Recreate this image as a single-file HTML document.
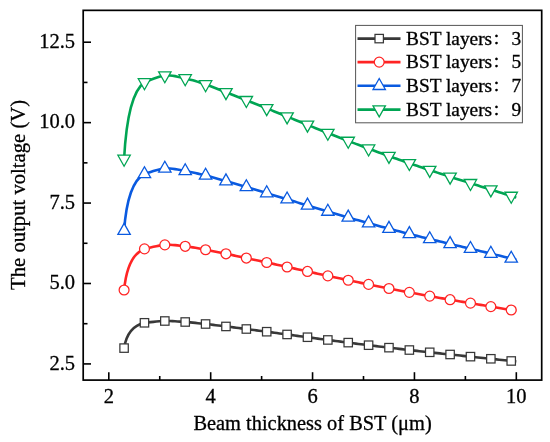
<!DOCTYPE html>
<html><head><meta charset="utf-8"><style>
html,body{margin:0;padding:0;background:#fff;}
svg{display:block;}
text{font-family:"Liberation Serif","Noto Serif CJK SC",serif;font-size:20px;fill:#000;stroke:#000;stroke-width:0.3px;}
text.lg{font-size:18px;}
text.tk{font-size:20.5px;}
text.ti{font-size:20.5px;}
</style></head><body>
<svg width="550" height="442" viewBox="0 0 550 442">
<rect width="550" height="442" fill="#fff"/>
<path d="M124.08,348.10 C125.55,339.10 129.34,326.25 144.46,322.80 L146.03,322.64 148.12,322.41 150.61,322.13 153.37,321.84 156.30,321.55 159.26,321.30 162.15,321.10 164.83,321.00 167.38,320.98 169.93,321.03 172.47,321.13 175.02,321.26 177.57,321.43 180.12,321.61 182.66,321.81 185.21,322.00 187.76,322.20 190.30,322.42 192.85,322.66 195.40,322.91 197.94,323.17 200.49,323.45 203.04,323.72 205.59,324.00 208.13,324.28 210.68,324.58 213.23,324.88 215.77,325.19 218.32,325.50 220.87,325.82 223.42,326.13 225.96,326.45 228.51,326.76 231.06,327.08 233.60,327.40 236.15,327.72 238.70,328.04 241.24,328.36 243.79,328.69 246.34,329.01 248.89,329.34 251.43,329.68 253.98,330.01 256.53,330.35 259.07,330.69 261.62,331.03 264.17,331.37 266.71,331.71 269.26,332.05 271.81,332.39 274.36,332.74 276.90,333.08 279.45,333.43 282.00,333.77 284.54,334.12 287.09,334.46 289.64,334.81 292.18,335.15 294.73,335.50 297.28,335.85 299.83,336.19 302.37,336.54 304.92,336.88 307.47,337.23 310.01,337.57 312.56,337.91 315.11,338.26 317.65,338.60 320.20,338.94 322.75,339.28 325.30,339.62 327.84,339.96 330.39,340.29 332.94,340.63 335.48,340.96 338.03,341.30 340.58,341.63 343.12,341.96 345.67,342.29 348.22,342.62 350.77,342.95 353.31,343.27 355.86,343.60 358.41,343.92 360.95,344.24 363.50,344.56 366.05,344.88 368.59,345.19 371.14,345.51 373.69,345.82 376.24,346.13 378.78,346.44 381.33,346.75 383.88,347.05 386.42,347.36 388.97,347.66 391.52,347.96 394.06,348.26 396.61,348.56 399.16,348.86 401.70,349.15 404.25,349.45 406.80,349.74 409.35,350.03 411.89,350.32 414.44,350.60 416.99,350.89 419.53,351.17 422.08,351.46 424.63,351.74 427.18,352.02 429.72,352.30 432.27,352.58 434.82,352.85 437.36,353.13 439.91,353.40 442.46,353.68 445.00,353.95 447.55,354.22 450.10,354.49 452.64,354.76 455.19,355.03 457.74,355.30 460.29,355.57 462.83,355.84 465.38,356.11 467.93,356.37 470.47,356.64 473.02,356.91 475.57,357.18 478.12,357.44 480.66,357.71 483.21,357.98 485.76,358.25 488.30,358.51 490.85,358.78 493.50,359.07 496.30,359.36 499.16,359.67 501.99,359.97 504.70,360.27 507.21,360.54 509.41,360.77 511.23,360.97 512.63,361.12 513.69,361.24 514.48,361.32 515.05,361.38 515.45,361.43 515.76,361.47 516.03,361.50 516.32,361.53" fill="none" stroke="#383838" stroke-width="2.6" stroke-linejoin="round" stroke-linecap="butt"/>
<path d="M124.08,290.00 C125.55,275.38 129.34,254.51 144.46,248.90 L146.03,248.55 148.12,248.05 150.61,247.46 153.37,246.81 156.30,246.18 159.26,245.61 162.15,245.17 164.83,244.90 167.38,244.80 169.93,244.82 172.47,244.94 175.02,245.14 177.57,245.39 180.12,245.68 182.66,245.99 185.21,246.30 187.76,246.62 190.30,246.99 192.85,247.40 195.40,247.83 197.94,248.29 200.49,248.75 203.04,249.23 205.59,249.70 208.13,250.18 210.68,250.67 213.23,251.18 215.77,251.70 218.32,252.22 220.87,252.75 223.42,253.28 225.96,253.81 228.51,254.33 231.06,254.85 233.60,255.38 236.15,255.91 238.70,256.45 241.24,256.98 243.79,257.52 246.34,258.06 248.89,258.60 251.43,259.15 253.98,259.70 256.53,260.25 259.07,260.80 261.62,261.36 264.17,261.91 266.71,262.47 269.26,263.03 271.81,263.58 274.36,264.14 276.90,264.71 279.45,265.27 282.00,265.83 284.54,266.39 287.09,266.95 289.64,267.52 292.18,268.08 294.73,268.64 297.28,269.20 299.83,269.76 302.37,270.32 304.92,270.89 307.47,271.44 310.01,272.00 312.56,272.56 315.11,273.12 317.65,273.67 320.20,274.23 322.75,274.78 325.30,275.33 327.84,275.88 330.39,276.43 332.94,276.97 335.48,277.52 338.03,278.06 340.58,278.60 343.12,279.14 345.67,279.68 348.22,280.22 350.77,280.75 353.31,281.28 355.86,281.81 358.41,282.33 360.95,282.86 363.50,283.38 366.05,283.90 368.59,284.42 371.14,284.93 373.69,285.45 376.24,285.96 378.78,286.46 381.33,286.97 383.88,287.47 386.42,287.97 388.97,288.47 391.52,288.96 394.06,289.46 396.61,289.95 399.16,290.43 401.70,290.92 404.25,291.40 406.80,291.88 409.35,292.36 411.89,292.83 414.44,293.31 416.99,293.78 419.53,294.24 422.08,294.71 424.63,295.17 427.18,295.63 429.72,296.09 432.27,296.55 434.82,297.00 437.36,297.46 439.91,297.91 442.46,298.35 445.00,298.80 447.55,299.24 450.10,299.69 452.64,300.13 455.19,300.57 457.74,301.01 460.29,301.44 462.83,301.88 465.38,302.31 467.93,302.74 470.47,303.17 473.02,303.60 475.57,304.03 478.12,304.46 480.66,304.89 483.21,305.31 485.76,305.74 488.30,306.17 490.85,306.59 493.50,307.04 496.30,307.51 499.16,307.98 501.99,308.46 504.70,308.91 507.21,309.33 509.41,309.70 511.23,310.00 512.63,310.24 513.69,310.42 514.48,310.55 515.05,310.64 515.45,310.71 515.76,310.77 516.03,310.81 516.32,310.86" fill="none" stroke="#ff2424" stroke-width="2.6" stroke-linejoin="round" stroke-linecap="butt"/>
<path d="M124.08,230.70 C125.55,210.53 129.34,181.73 144.46,174.00 L146.03,173.52 148.12,172.82 150.61,171.99 153.37,171.09 156.30,170.22 159.26,169.44 162.15,168.84 164.83,168.50 167.38,168.42 169.93,168.52 172.47,168.76 175.02,169.12 177.57,169.56 180.12,170.05 182.66,170.54 185.21,171.00 187.76,171.46 190.30,171.96 192.85,172.49 195.40,173.05 197.94,173.64 200.49,174.25 203.04,174.87 205.59,175.50 208.13,176.15 210.68,176.83 213.23,177.52 215.77,178.24 218.32,178.96 220.87,179.69 223.42,180.42 225.96,181.14 228.51,181.86 231.06,182.59 233.60,183.31 236.15,184.04 238.70,184.78 241.24,185.51 243.79,186.25 246.34,187.00 248.89,187.75 251.43,188.50 253.98,189.26 256.53,190.02 259.07,190.79 261.62,191.55 264.17,192.32 266.71,193.09 269.26,193.85 271.81,194.63 274.36,195.40 276.90,196.17 279.45,196.95 282.00,197.72 284.54,198.50 287.09,199.27 289.64,200.05 292.18,200.82 294.73,201.60 297.28,202.37 299.83,203.14 302.37,203.91 304.92,204.68 307.47,205.45 310.01,206.22 312.56,206.98 315.11,207.75 317.65,208.51 320.20,209.27 322.75,210.03 325.30,210.78 327.84,211.54 330.39,212.29 332.94,213.03 335.48,213.78 338.03,214.52 340.58,215.26 343.12,216.00 345.67,216.73 348.22,217.46 350.77,218.19 353.31,218.91 355.86,219.63 358.41,220.35 360.95,221.06 363.50,221.77 366.05,222.48 368.59,223.18 371.14,223.88 373.69,224.58 376.24,225.27 378.78,225.96 381.33,226.64 383.88,227.33 386.42,228.00 388.97,228.68 391.52,229.35 394.06,230.02 396.61,230.68 399.16,231.34 401.70,232.00 404.25,232.65 406.80,233.30 409.35,233.95 411.89,234.60 414.44,235.24 416.99,235.87 419.53,236.51 422.08,237.14 424.63,237.77 427.18,238.40 429.72,239.02 432.27,239.64 434.82,240.26 437.36,240.88 439.91,241.49 442.46,242.11 445.00,242.72 447.55,243.33 450.10,243.94 452.64,244.54 455.19,245.15 457.74,245.75 460.29,246.35 462.83,246.95 465.38,247.56 467.93,248.16 470.47,248.76 473.02,249.36 475.57,249.96 478.12,250.56 480.66,251.16 483.21,251.76 485.76,252.37 488.30,252.97 490.85,253.58 493.50,254.22 496.30,254.89 499.16,255.58 501.99,256.27 504.70,256.92 507.21,257.53 509.41,258.07 511.23,258.51 512.63,258.85 513.69,259.11 514.48,259.30 515.05,259.45 515.45,259.55 515.76,259.63 516.03,259.70 516.32,259.77" fill="none" stroke="#0a5ae0" stroke-width="2.6" stroke-linejoin="round" stroke-linecap="butt"/>
<path d="M124.08,158.90 C125.55,131.68 129.34,92.83 144.46,82.40 L146.03,81.80 148.12,80.93 150.61,79.89 153.37,78.77 156.30,77.67 159.26,76.70 162.15,75.94 164.83,75.50 167.38,75.37 169.93,75.46 172.47,75.73 175.02,76.14 177.57,76.65 180.12,77.23 182.66,77.82 185.21,78.40 187.76,78.99 190.30,79.64 192.85,80.34 195.40,81.09 197.94,81.87 200.49,82.69 203.04,83.54 205.59,84.40 208.13,85.30 210.68,86.25 213.23,87.23 215.77,88.25 218.32,89.27 220.87,90.30 223.42,91.33 225.96,92.33 228.51,93.31 231.06,94.30 233.60,95.28 236.15,96.25 238.70,97.24 241.24,98.22 243.79,99.21 246.34,100.21 248.89,101.21 251.43,102.22 253.98,103.24 256.53,104.25 259.07,105.28 261.62,106.30 264.17,107.32 266.71,108.35 269.26,109.37 271.81,110.40 274.36,111.44 276.90,112.47 279.45,113.50 282.00,114.54 284.54,115.57 287.09,116.60 289.64,117.63 292.18,118.67 294.73,119.70 297.28,120.73 299.83,121.77 302.37,122.80 304.92,123.82 307.47,124.85 310.01,125.87 312.56,126.90 315.11,127.92 317.65,128.94 320.20,129.96 322.75,130.97 325.30,131.98 327.84,132.99 330.39,133.99 332.94,135.00 335.48,136.00 338.03,136.99 340.58,137.99 343.12,138.98 345.67,139.96 348.22,140.94 350.77,141.92 353.31,142.89 355.86,143.86 358.41,144.83 360.95,145.79 363.50,146.75 366.05,147.70 368.59,148.65 371.14,149.60 373.69,150.54 376.24,151.47 378.78,152.41 381.33,153.33 383.88,154.26 386.42,155.18 388.97,156.09 391.52,157.00 394.06,157.90 396.61,158.80 399.16,159.70 401.70,160.59 404.25,161.48 406.80,162.36 409.35,163.24 411.89,164.12 414.44,164.98 416.99,165.85 419.53,166.71 422.08,167.57 424.63,168.42 427.18,169.27 429.72,170.12 432.27,170.96 434.82,171.80 437.36,172.63 439.91,173.47 442.46,174.29 445.00,175.12 447.55,175.94 450.10,176.76 452.64,177.58 455.19,178.39 457.74,179.20 460.29,180.01 462.83,180.81 465.38,181.62 467.93,182.42 470.47,183.22 473.02,184.02 475.57,184.82 478.12,185.61 480.66,186.41 483.21,187.20 485.76,187.99 488.30,188.79 490.85,189.58 493.50,190.41 496.30,191.28 499.16,192.17 501.99,193.06 504.70,193.90 507.21,194.69 509.41,195.37 511.23,195.94 512.63,196.38 513.69,196.72 514.48,196.96 515.05,197.14 515.45,197.27 515.76,197.37 516.03,197.46 516.32,197.55" fill="none" stroke="#00a553" stroke-width="2.6" stroke-linejoin="round" stroke-linecap="butt"/>
<rect x="119.88" y="343.90" width="8.4" height="8.4" fill="#fff" stroke="#383838" stroke-width="1.25"/>
<rect x="140.26" y="318.60" width="8.4" height="8.4" fill="#fff" stroke="#383838" stroke-width="1.25"/>
<rect x="160.63" y="316.80" width="8.4" height="8.4" fill="#fff" stroke="#383838" stroke-width="1.25"/>
<rect x="181.01" y="317.80" width="8.4" height="8.4" fill="#fff" stroke="#383838" stroke-width="1.25"/>
<rect x="201.39" y="319.80" width="8.4" height="8.4" fill="#fff" stroke="#383838" stroke-width="1.25"/>
<rect x="221.76" y="322.25" width="8.4" height="8.4" fill="#fff" stroke="#383838" stroke-width="1.25"/>
<rect x="242.14" y="324.81" width="8.4" height="8.4" fill="#fff" stroke="#383838" stroke-width="1.25"/>
<rect x="262.51" y="327.51" width="8.4" height="8.4" fill="#fff" stroke="#383838" stroke-width="1.25"/>
<rect x="282.89" y="330.26" width="8.4" height="8.4" fill="#fff" stroke="#383838" stroke-width="1.25"/>
<rect x="303.27" y="333.03" width="8.4" height="8.4" fill="#fff" stroke="#383838" stroke-width="1.25"/>
<rect x="323.64" y="335.76" width="8.4" height="8.4" fill="#fff" stroke="#383838" stroke-width="1.25"/>
<rect x="344.02" y="338.42" width="8.4" height="8.4" fill="#fff" stroke="#383838" stroke-width="1.25"/>
<rect x="364.39" y="340.99" width="8.4" height="8.4" fill="#fff" stroke="#383838" stroke-width="1.25"/>
<rect x="384.77" y="343.46" width="8.4" height="8.4" fill="#fff" stroke="#383838" stroke-width="1.25"/>
<rect x="405.15" y="345.83" width="8.4" height="8.4" fill="#fff" stroke="#383838" stroke-width="1.25"/>
<rect x="425.52" y="348.10" width="8.4" height="8.4" fill="#fff" stroke="#383838" stroke-width="1.25"/>
<rect x="445.90" y="350.29" width="8.4" height="8.4" fill="#fff" stroke="#383838" stroke-width="1.25"/>
<rect x="466.27" y="352.44" width="8.4" height="8.4" fill="#fff" stroke="#383838" stroke-width="1.25"/>
<rect x="486.65" y="354.58" width="8.4" height="8.4" fill="#fff" stroke="#383838" stroke-width="1.25"/>
<rect x="507.03" y="356.77" width="8.4" height="8.4" fill="#fff" stroke="#383838" stroke-width="1.25"/>
<circle cx="124.08" cy="290.00" r="4.95" fill="#fff" stroke="#ff2424" stroke-width="1.25"/>
<circle cx="144.46" cy="248.90" r="4.95" fill="#fff" stroke="#ff2424" stroke-width="1.25"/>
<circle cx="164.83" cy="244.90" r="4.95" fill="#fff" stroke="#ff2424" stroke-width="1.25"/>
<circle cx="185.21" cy="246.30" r="4.95" fill="#fff" stroke="#ff2424" stroke-width="1.25"/>
<circle cx="205.59" cy="249.70" r="4.95" fill="#fff" stroke="#ff2424" stroke-width="1.25"/>
<circle cx="225.96" cy="253.81" r="4.95" fill="#fff" stroke="#ff2424" stroke-width="1.25"/>
<circle cx="246.34" cy="258.06" r="4.95" fill="#fff" stroke="#ff2424" stroke-width="1.25"/>
<circle cx="266.71" cy="262.47" r="4.95" fill="#fff" stroke="#ff2424" stroke-width="1.25"/>
<circle cx="287.09" cy="266.95" r="4.95" fill="#fff" stroke="#ff2424" stroke-width="1.25"/>
<circle cx="307.47" cy="271.44" r="4.95" fill="#fff" stroke="#ff2424" stroke-width="1.25"/>
<circle cx="327.84" cy="275.88" r="4.95" fill="#fff" stroke="#ff2424" stroke-width="1.25"/>
<circle cx="348.22" cy="280.22" r="4.95" fill="#fff" stroke="#ff2424" stroke-width="1.25"/>
<circle cx="368.59" cy="284.42" r="4.95" fill="#fff" stroke="#ff2424" stroke-width="1.25"/>
<circle cx="388.97" cy="288.47" r="4.95" fill="#fff" stroke="#ff2424" stroke-width="1.25"/>
<circle cx="409.35" cy="292.36" r="4.95" fill="#fff" stroke="#ff2424" stroke-width="1.25"/>
<circle cx="429.72" cy="296.09" r="4.95" fill="#fff" stroke="#ff2424" stroke-width="1.25"/>
<circle cx="450.10" cy="299.69" r="4.95" fill="#fff" stroke="#ff2424" stroke-width="1.25"/>
<circle cx="470.47" cy="303.17" r="4.95" fill="#fff" stroke="#ff2424" stroke-width="1.25"/>
<circle cx="490.85" cy="306.59" r="4.95" fill="#fff" stroke="#ff2424" stroke-width="1.25"/>
<circle cx="511.23" cy="310.00" r="4.95" fill="#fff" stroke="#ff2424" stroke-width="1.25"/>
<path d="M124.08,223.40 L130.28,234.40 L117.88,234.40 Z" fill="#fff" stroke="#0a5ae0" stroke-width="1.3" stroke-linejoin="miter"/>
<path d="M144.46,166.70 L150.66,177.70 L138.26,177.70 Z" fill="#fff" stroke="#0a5ae0" stroke-width="1.3" stroke-linejoin="miter"/>
<path d="M164.83,161.20 L171.03,172.20 L158.63,172.20 Z" fill="#fff" stroke="#0a5ae0" stroke-width="1.3" stroke-linejoin="miter"/>
<path d="M185.21,163.70 L191.41,174.70 L179.01,174.70 Z" fill="#fff" stroke="#0a5ae0" stroke-width="1.3" stroke-linejoin="miter"/>
<path d="M205.59,168.20 L211.79,179.20 L199.39,179.20 Z" fill="#fff" stroke="#0a5ae0" stroke-width="1.3" stroke-linejoin="miter"/>
<path d="M225.96,173.84 L232.16,184.84 L219.76,184.84 Z" fill="#fff" stroke="#0a5ae0" stroke-width="1.3" stroke-linejoin="miter"/>
<path d="M246.34,179.70 L252.54,190.70 L240.14,190.70 Z" fill="#fff" stroke="#0a5ae0" stroke-width="1.3" stroke-linejoin="miter"/>
<path d="M266.71,185.79 L272.91,196.79 L260.51,196.79 Z" fill="#fff" stroke="#0a5ae0" stroke-width="1.3" stroke-linejoin="miter"/>
<path d="M287.09,191.97 L293.29,202.97 L280.89,202.97 Z" fill="#fff" stroke="#0a5ae0" stroke-width="1.3" stroke-linejoin="miter"/>
<path d="M307.47,198.15 L313.67,209.15 L301.27,209.15 Z" fill="#fff" stroke="#0a5ae0" stroke-width="1.3" stroke-linejoin="miter"/>
<path d="M327.84,204.24 L334.04,215.24 L321.64,215.24 Z" fill="#fff" stroke="#0a5ae0" stroke-width="1.3" stroke-linejoin="miter"/>
<path d="M348.22,210.16 L354.42,221.16 L342.02,221.16 Z" fill="#fff" stroke="#0a5ae0" stroke-width="1.3" stroke-linejoin="miter"/>
<path d="M368.59,215.88 L374.79,226.88 L362.39,226.88 Z" fill="#fff" stroke="#0a5ae0" stroke-width="1.3" stroke-linejoin="miter"/>
<path d="M388.97,221.38 L395.17,232.38 L382.77,232.38 Z" fill="#fff" stroke="#0a5ae0" stroke-width="1.3" stroke-linejoin="miter"/>
<path d="M409.35,226.65 L415.55,237.65 L403.15,237.65 Z" fill="#fff" stroke="#0a5ae0" stroke-width="1.3" stroke-linejoin="miter"/>
<path d="M429.72,231.72 L435.92,242.72 L423.52,242.72 Z" fill="#fff" stroke="#0a5ae0" stroke-width="1.3" stroke-linejoin="miter"/>
<path d="M450.10,236.64 L456.30,247.64 L443.90,247.64 Z" fill="#fff" stroke="#0a5ae0" stroke-width="1.3" stroke-linejoin="miter"/>
<path d="M470.47,241.46 L476.67,252.46 L464.27,252.46 Z" fill="#fff" stroke="#0a5ae0" stroke-width="1.3" stroke-linejoin="miter"/>
<path d="M490.85,246.28 L497.05,257.28 L484.65,257.28 Z" fill="#fff" stroke="#0a5ae0" stroke-width="1.3" stroke-linejoin="miter"/>
<path d="M511.23,251.21 L517.43,262.21 L505.03,262.21 Z" fill="#fff" stroke="#0a5ae0" stroke-width="1.3" stroke-linejoin="miter"/>
<path d="M124.08,166.20 L130.28,155.20 L117.88,155.20 Z" fill="#fff" stroke="#00a553" stroke-width="1.3" stroke-linejoin="miter"/>
<path d="M144.46,89.70 L150.66,78.70 L138.26,78.70 Z" fill="#fff" stroke="#00a553" stroke-width="1.3" stroke-linejoin="miter"/>
<path d="M164.83,82.80 L171.03,71.80 L158.63,71.80 Z" fill="#fff" stroke="#00a553" stroke-width="1.3" stroke-linejoin="miter"/>
<path d="M185.21,85.70 L191.41,74.70 L179.01,74.70 Z" fill="#fff" stroke="#00a553" stroke-width="1.3" stroke-linejoin="miter"/>
<path d="M205.59,91.70 L211.79,80.70 L199.39,80.70 Z" fill="#fff" stroke="#00a553" stroke-width="1.3" stroke-linejoin="miter"/>
<path d="M225.96,99.63 L232.16,88.63 L219.76,88.63 Z" fill="#fff" stroke="#00a553" stroke-width="1.3" stroke-linejoin="miter"/>
<path d="M246.34,107.51 L252.54,96.51 L240.14,96.51 Z" fill="#fff" stroke="#00a553" stroke-width="1.3" stroke-linejoin="miter"/>
<path d="M266.71,115.65 L272.91,104.65 L260.51,104.65 Z" fill="#fff" stroke="#00a553" stroke-width="1.3" stroke-linejoin="miter"/>
<path d="M287.09,123.90 L293.29,112.90 L280.89,112.90 Z" fill="#fff" stroke="#00a553" stroke-width="1.3" stroke-linejoin="miter"/>
<path d="M307.47,132.15 L313.67,121.15 L301.27,121.15 Z" fill="#fff" stroke="#00a553" stroke-width="1.3" stroke-linejoin="miter"/>
<path d="M327.84,140.29 L334.04,129.29 L321.64,129.29 Z" fill="#fff" stroke="#00a553" stroke-width="1.3" stroke-linejoin="miter"/>
<path d="M348.22,148.24 L354.42,137.24 L342.02,137.24 Z" fill="#fff" stroke="#00a553" stroke-width="1.3" stroke-linejoin="miter"/>
<path d="M368.59,155.95 L374.79,144.95 L362.39,144.95 Z" fill="#fff" stroke="#00a553" stroke-width="1.3" stroke-linejoin="miter"/>
<path d="M388.97,163.39 L395.17,152.39 L382.77,152.39 Z" fill="#fff" stroke="#00a553" stroke-width="1.3" stroke-linejoin="miter"/>
<path d="M409.35,170.54 L415.55,159.54 L403.15,159.54 Z" fill="#fff" stroke="#00a553" stroke-width="1.3" stroke-linejoin="miter"/>
<path d="M429.72,177.42 L435.92,166.42 L423.52,166.42 Z" fill="#fff" stroke="#00a553" stroke-width="1.3" stroke-linejoin="miter"/>
<path d="M450.10,184.06 L456.30,173.06 L443.90,173.06 Z" fill="#fff" stroke="#00a553" stroke-width="1.3" stroke-linejoin="miter"/>
<path d="M470.47,190.52 L476.67,179.52 L464.27,179.52 Z" fill="#fff" stroke="#00a553" stroke-width="1.3" stroke-linejoin="miter"/>
<path d="M490.85,196.88 L497.05,185.88 L484.65,185.88 Z" fill="#fff" stroke="#00a553" stroke-width="1.3" stroke-linejoin="miter"/>
<path d="M511.23,203.24 L517.43,192.24 L505.03,192.24 Z" fill="#fff" stroke="#00a553" stroke-width="1.3" stroke-linejoin="miter"/>
<rect x="83.2" y="10.35" width="458.5" height="369.75" fill="none" stroke="#000" stroke-width="1.7"/>
<line x1="108.80" y1="380" x2="108.80" y2="372.2" stroke="#000" stroke-width="1.6"/>
<text x="108.80" y="403.3" text-anchor="middle" class="tk">2</text>
<line x1="210.68" y1="380" x2="210.68" y2="372.2" stroke="#000" stroke-width="1.6"/>
<text x="210.68" y="403.3" text-anchor="middle" class="tk">4</text>
<line x1="312.56" y1="380" x2="312.56" y2="372.2" stroke="#000" stroke-width="1.6"/>
<text x="312.56" y="403.3" text-anchor="middle" class="tk">6</text>
<line x1="414.44" y1="380" x2="414.44" y2="372.2" stroke="#000" stroke-width="1.6"/>
<text x="414.44" y="403.3" text-anchor="middle" class="tk">8</text>
<line x1="516.32" y1="380" x2="516.32" y2="372.2" stroke="#000" stroke-width="1.6"/>
<text x="516.32" y="403.3" text-anchor="middle" class="tk">10</text>
<line x1="159.74" y1="380" x2="159.74" y2="376" stroke="#000" stroke-width="1.6"/>
<line x1="261.62" y1="380" x2="261.62" y2="376" stroke="#000" stroke-width="1.6"/>
<line x1="363.50" y1="380" x2="363.50" y2="376" stroke="#000" stroke-width="1.6"/>
<line x1="465.38" y1="380" x2="465.38" y2="376" stroke="#000" stroke-width="1.6"/>
<line x1="83.2" y1="363.92" x2="91" y2="363.92" stroke="#000" stroke-width="1.6"/>
<text x="75" y="369.52" text-anchor="end" class="tk">2.5</text>
<line x1="83.2" y1="283.49" x2="91" y2="283.49" stroke="#000" stroke-width="1.6"/>
<text x="75" y="289.09" text-anchor="end" class="tk">5.0</text>
<line x1="83.2" y1="203.06" x2="91" y2="203.06" stroke="#000" stroke-width="1.6"/>
<text x="75" y="208.66" text-anchor="end" class="tk">7.5</text>
<line x1="83.2" y1="122.64" x2="91" y2="122.64" stroke="#000" stroke-width="1.6"/>
<text x="75" y="128.24" text-anchor="end" class="tk">10.0</text>
<line x1="83.2" y1="42.21" x2="91" y2="42.21" stroke="#000" stroke-width="1.6"/>
<text x="75" y="47.81" text-anchor="end" class="tk">12.5</text>
<line x1="83.2" y1="323.70" x2="87.5" y2="323.70" stroke="#000" stroke-width="1.6"/>
<line x1="83.2" y1="243.28" x2="87.5" y2="243.28" stroke="#000" stroke-width="1.6"/>
<line x1="83.2" y1="162.85" x2="87.5" y2="162.85" stroke="#000" stroke-width="1.6"/>
<line x1="83.2" y1="82.43" x2="87.5" y2="82.43" stroke="#000" stroke-width="1.6"/>
<text x="193.4" y="430" textLength="238.3" lengthAdjust="spacingAndGlyphs" class="ti">Beam thickness of BST (μm)</text>
<text transform="translate(24.5,289.9) rotate(-90)" x="0" y="0" textLength="190" lengthAdjust="spacingAndGlyphs" class="ti">The output voltage (V)</text>
<rect x="355.6" y="25.4" width="166.8" height="97.4" fill="#fff" stroke="#555" stroke-width="1"/>
<line x1="357.5" y1="38.6" x2="400.5" y2="38.6" stroke="#383838" stroke-width="2.6"/>
<rect x="375.00" y="34.40" width="8.4" height="8.4" fill="#fff" stroke="#383838" stroke-width="1.25"/>
<text transform="translate(406,44.50) scale(1.075,1)" x="0" y="0" class="lg">BST layers：3</text>
<line x1="357.5" y1="62.1" x2="400.5" y2="62.1" stroke="#ff2424" stroke-width="2.6"/>
<circle cx="379.20" cy="62.10" r="4.95" fill="#fff" stroke="#ff2424" stroke-width="1.25"/>
<text transform="translate(406,68.00) scale(1.075,1)" x="0" y="0" class="lg">BST layers：5</text>
<line x1="357.5" y1="85.8" x2="400.5" y2="85.8" stroke="#0a5ae0" stroke-width="2.6"/>
<path d="M379.20,78.50 L385.40,89.50 L373.00,89.50 Z" fill="#fff" stroke="#0a5ae0" stroke-width="1.3" stroke-linejoin="miter"/>
<text transform="translate(406,91.70) scale(1.075,1)" x="0" y="0" class="lg">BST layers：7</text>
<line x1="357.5" y1="109.6" x2="400.5" y2="109.6" stroke="#00a553" stroke-width="2.6"/>
<path d="M379.20,116.90 L385.40,105.90 L373.00,105.90 Z" fill="#fff" stroke="#00a553" stroke-width="1.3" stroke-linejoin="miter"/>
<text transform="translate(406,115.50) scale(1.075,1)" x="0" y="0" class="lg">BST layers：9</text>
</svg>
</body></html>
